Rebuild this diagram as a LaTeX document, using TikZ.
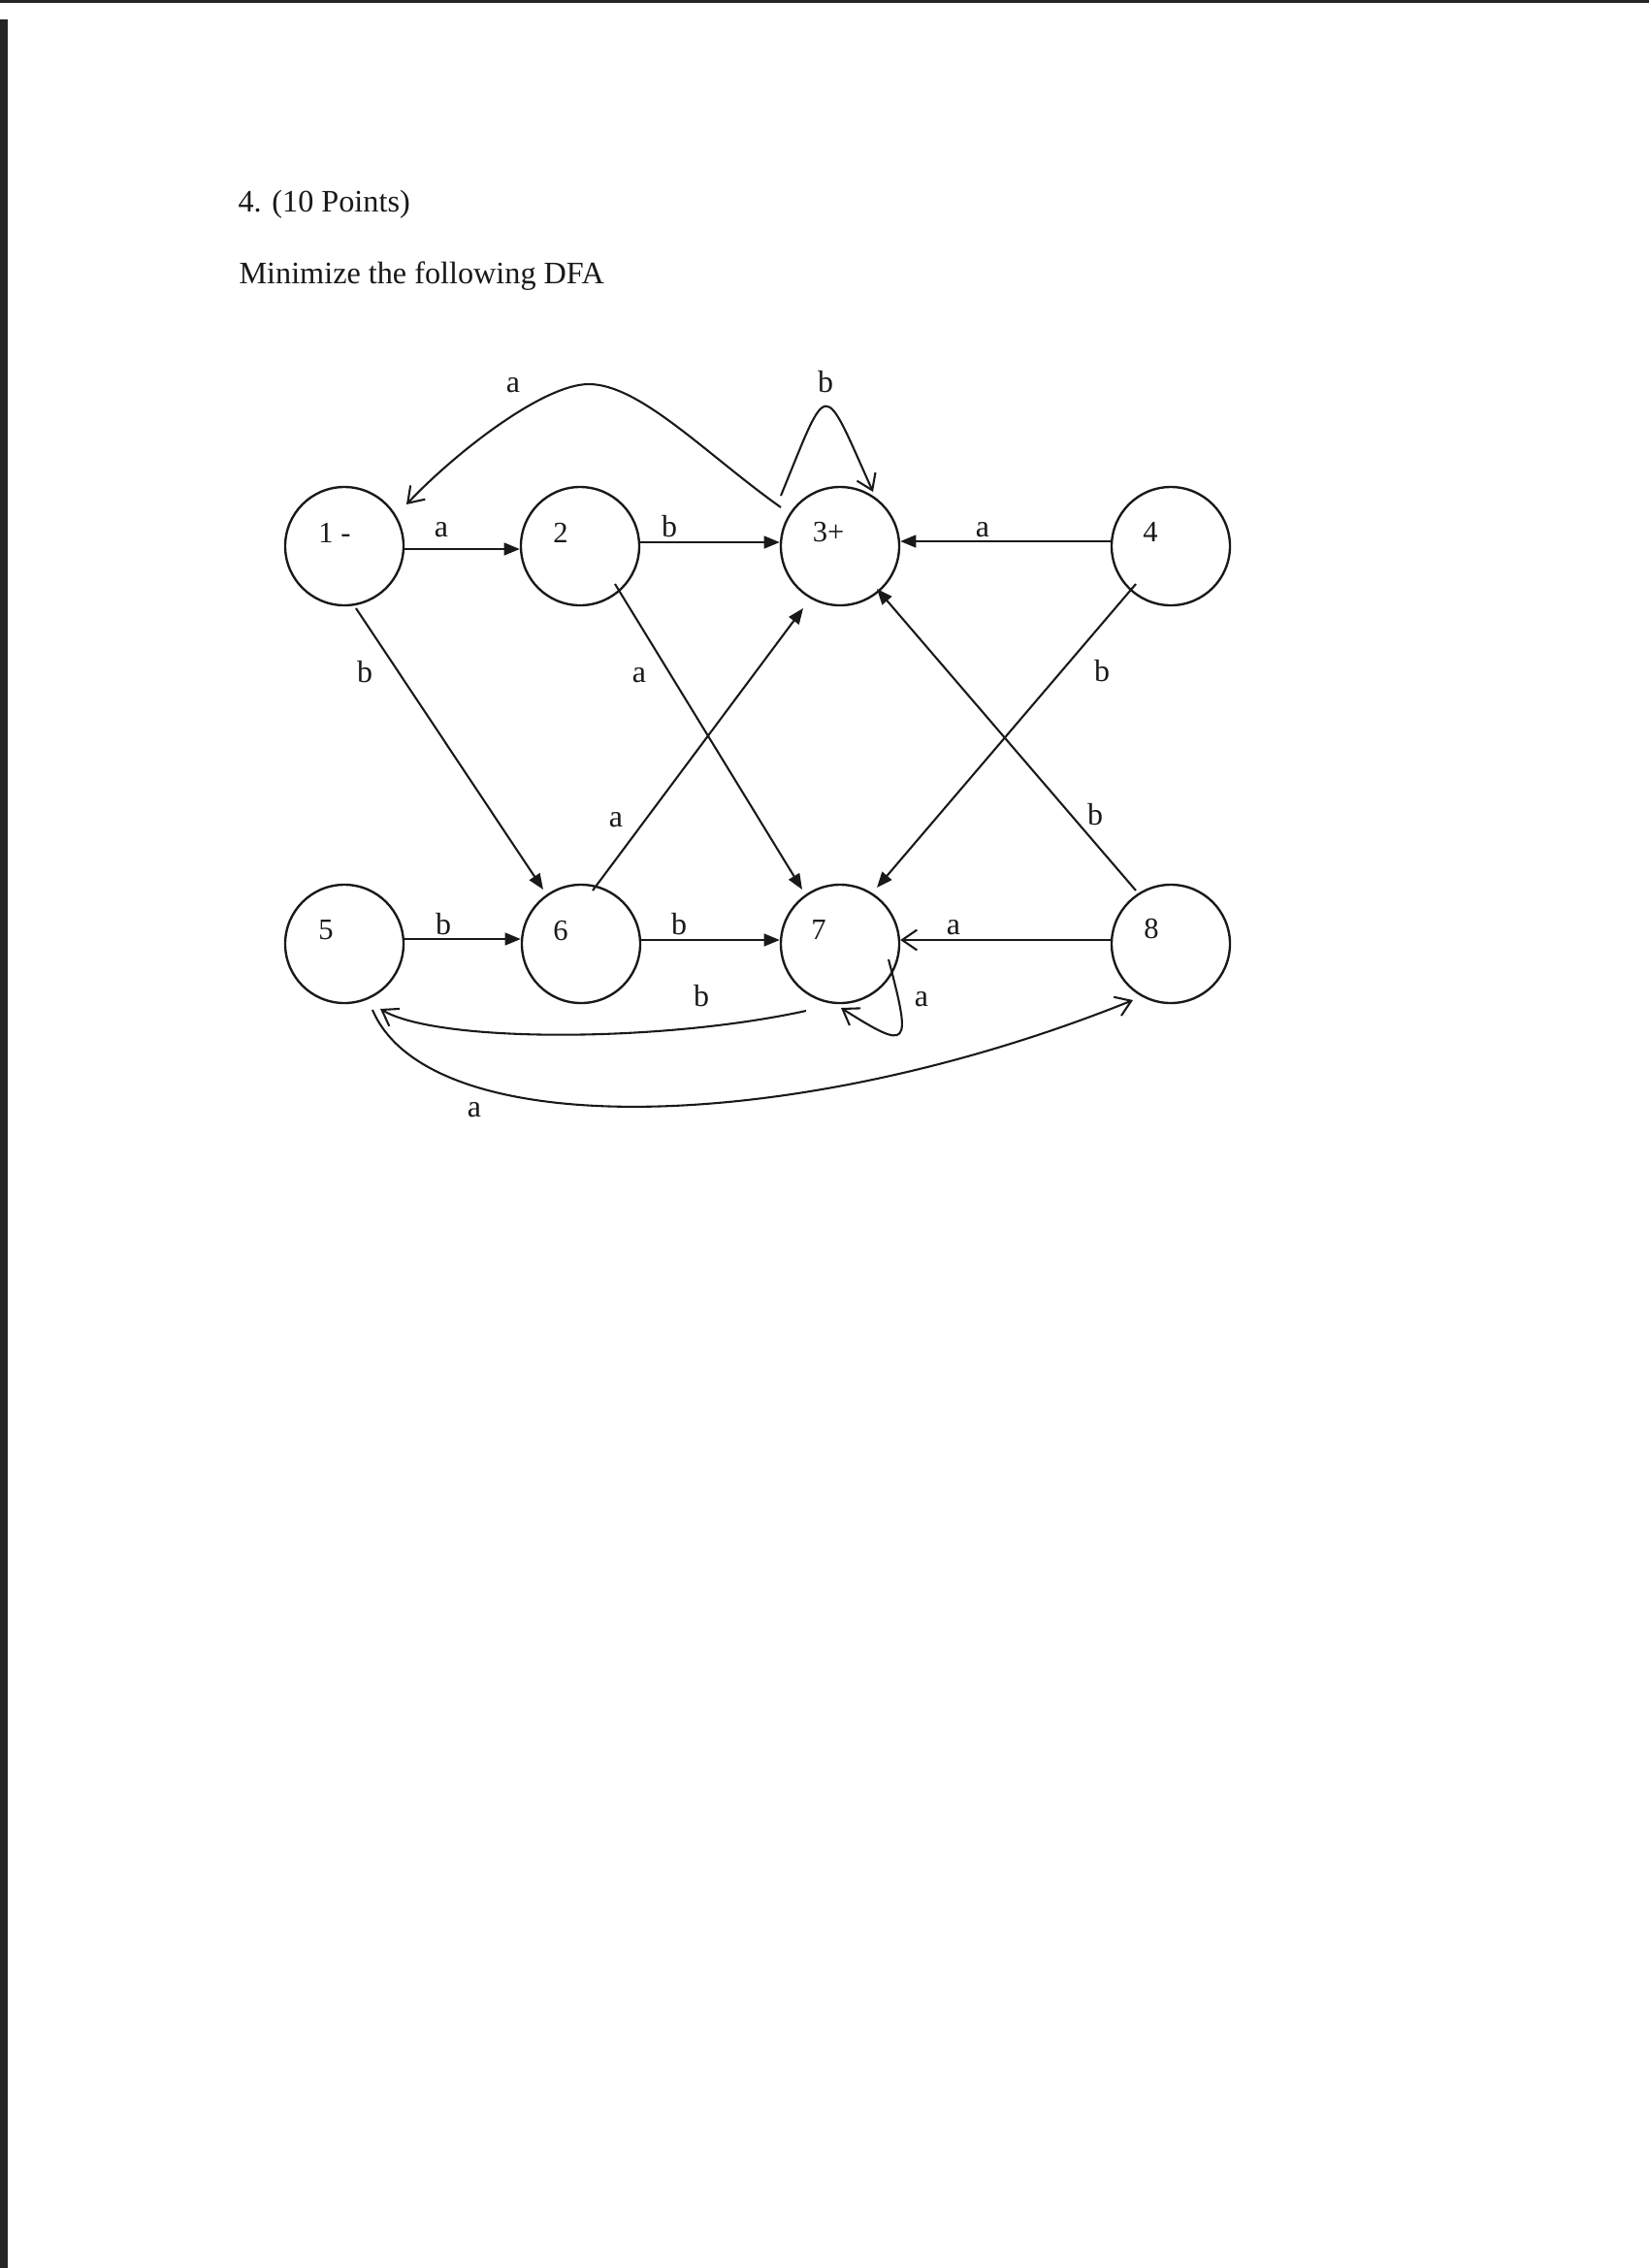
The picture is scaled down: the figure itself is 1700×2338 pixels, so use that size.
\documentclass[tikz,border=0pt]{standalone}
\usepackage{fontspec}
\setmainfont{Liberation Serif}
\usetikzlibrary{arrows.meta,calc}
\begin{document}
\begin{tikzpicture}[x=0.36pt,y=-0.36pt,
  st/.style={circle, draw=black!90, line width=0.85pt, minimum size=43.92pt, inner sep=0pt},
  stlabel/.style={anchor=base, font=\fontsize{11}{13}\selectfont, inner sep=0pt, text=black!90},
  elabel/.style={anchor=base, font=\fontsize{11.5}{13}\selectfont, inner sep=0pt, text=black!90},
  heading/.style={anchor=base west, font=\fontsize{11.6}{14}\selectfont, inner sep=0pt, text=black!90},
  edgeline/.style={line width=0.75pt, draw=black!90},
  filled/.style={edgeline, -{Triangle[length=5.8pt,width=4.6pt]}},
  openarr/.style={edgeline, -{Straight Barb[length=5.5pt,width=7.5pt]}},
  scan/.style={fill=black!85, draw=none}]
\useasboundingbox (0,0) rectangle (1700,2338);
\fill[white] (0,0) rectangle (1700,2338);
\fill[scan] (0,20) rectangle (8,2338);
\fill[scan] (0,0) rectangle (1700,3);

% title
\node[heading] (title) at (245,218) {4. (10 Points)};
\node[heading] (task) at (246,292) {Minimize the following DFA};

% states
\node[st] (n1) at (355,563) {};
\node[st] (n2) at (598,563) {};
\node[st] (n3) at (866,563) {};
\node[st] (n4) at (1207,563) {};
\node[st] (n5) at (355,973) {};
\node[st] (n6) at (599,973) {};
\node[st] (n7) at (866,973) {};
\node[st] (n8) at (1207,973) {};

% state names
\node[stlabel] (t1) at (345,559) {1 -};
\node[stlabel] (t2) at (578,559) {2};
\node[stlabel] (t3) at (854,558) {3+};
\node[stlabel] (t4) at (1186,558) {4};
\node[stlabel] (t5) at (336,968) {5};
\node[stlabel] (t6) at (578,969) {6};
\node[stlabel] (t7) at (844,968) {7};
\node[stlabel] (t8) at (1187,967) {8};

% horizontal transitions
\draw[filled] ($(n1.east)+(0,3)$) -- ($(n2.west)+(0,3)$);
\draw[filled] ($(n2.east)+(0,-4)$) -- ($(n3.west)+(0,-4)$);
\draw[filled] ($(n4.west)+(0,-5)$) -- ($(n3.east)+(0,-5)$);
\draw[filled] ($(n5.east)+(0,-5)$) -- ($(n6.west)+(0,-5)$);
\draw[filled] ($(n6.east)+(0,-4)$) -- ($(n7.west)+(0,-4)$);
\draw[openarr] ($(n8.west)+(0,-4)$) -- ($(n7.east)+(0,-4)$);

% diagonal transitions
\draw[filled] ($(n1)+(12,64)$) -- ($(n6)+(-39,-56)$);
\draw[filled] ($(n2)+(36,39)$) -- ($(n7)+(-39,-56)$);
\draw[filled] ($(n6)+(12,-55)$) -- ($(n3)+(-38,64)$);
\draw[filled] ($(n8)+(-36,-55)$) -- ($(n3)+(38,44)$);
\draw[filled] ($(n4)+(-36,39)$) -- ($(n7)+(38,-58)$);

% curved transitions
\coordinate (arctop) at (607,396);
\draw[openarr] ($(n3)+(-61,-40)$) .. controls (730,470) and (660,396) .. (arctop)
   .. controls (560,396) and (469,467) .. ($(n1)+(64,-43)$);
\draw[openarr] ($(n3)+(-61,-52)$) .. controls (855,389) and (847,389) .. ($(n3)+(34,-56)$);
\draw[openarr] ($(n7)+(50,16)$) .. controls (940,1080) and (938,1084) .. ($(n7)+(1,66)$);
\draw[openarr] ($(n7)+(-35,69)$) .. controls (680,1075) and (450,1075) .. ($(n5)+(37,67)$);
\draw[openarr] ($(n5)+(29,68)$) .. controls (443,1180) and (820,1171) .. ($(n8)+(-39,58)$);

% transition labels
\node[elabel] (l12) at (455,553) {a};
\node[elabel] (l23) at (690,553) {b};
\node[elabel] (l43) at (1013,553) {a};
\node[elabel] (l31) at (529,404) {a};
\node[elabel] (l33) at (851,404) {b};
\node[elabel] (l16) at (376,703) {b};
\node[elabel] (l27) at (659,703) {a};
\node[elabel] (l63) at (635,852) {a};
\node[elabel] (l47) at (1136,702) {b};
\node[elabel] (l83) at (1129,850) {b};
\node[elabel] (l56) at (457,963) {b};
\node[elabel] (l67) at (700,963) {b};
\node[elabel] (l87) at (983,963) {a};
\node[elabel] (l75) at (723,1037) {b};
\node[elabel] (l77) at (950,1037) {a};
\node[elabel] (l58) at (489,1151) {a};
\end{tikzpicture}
\end{document}
